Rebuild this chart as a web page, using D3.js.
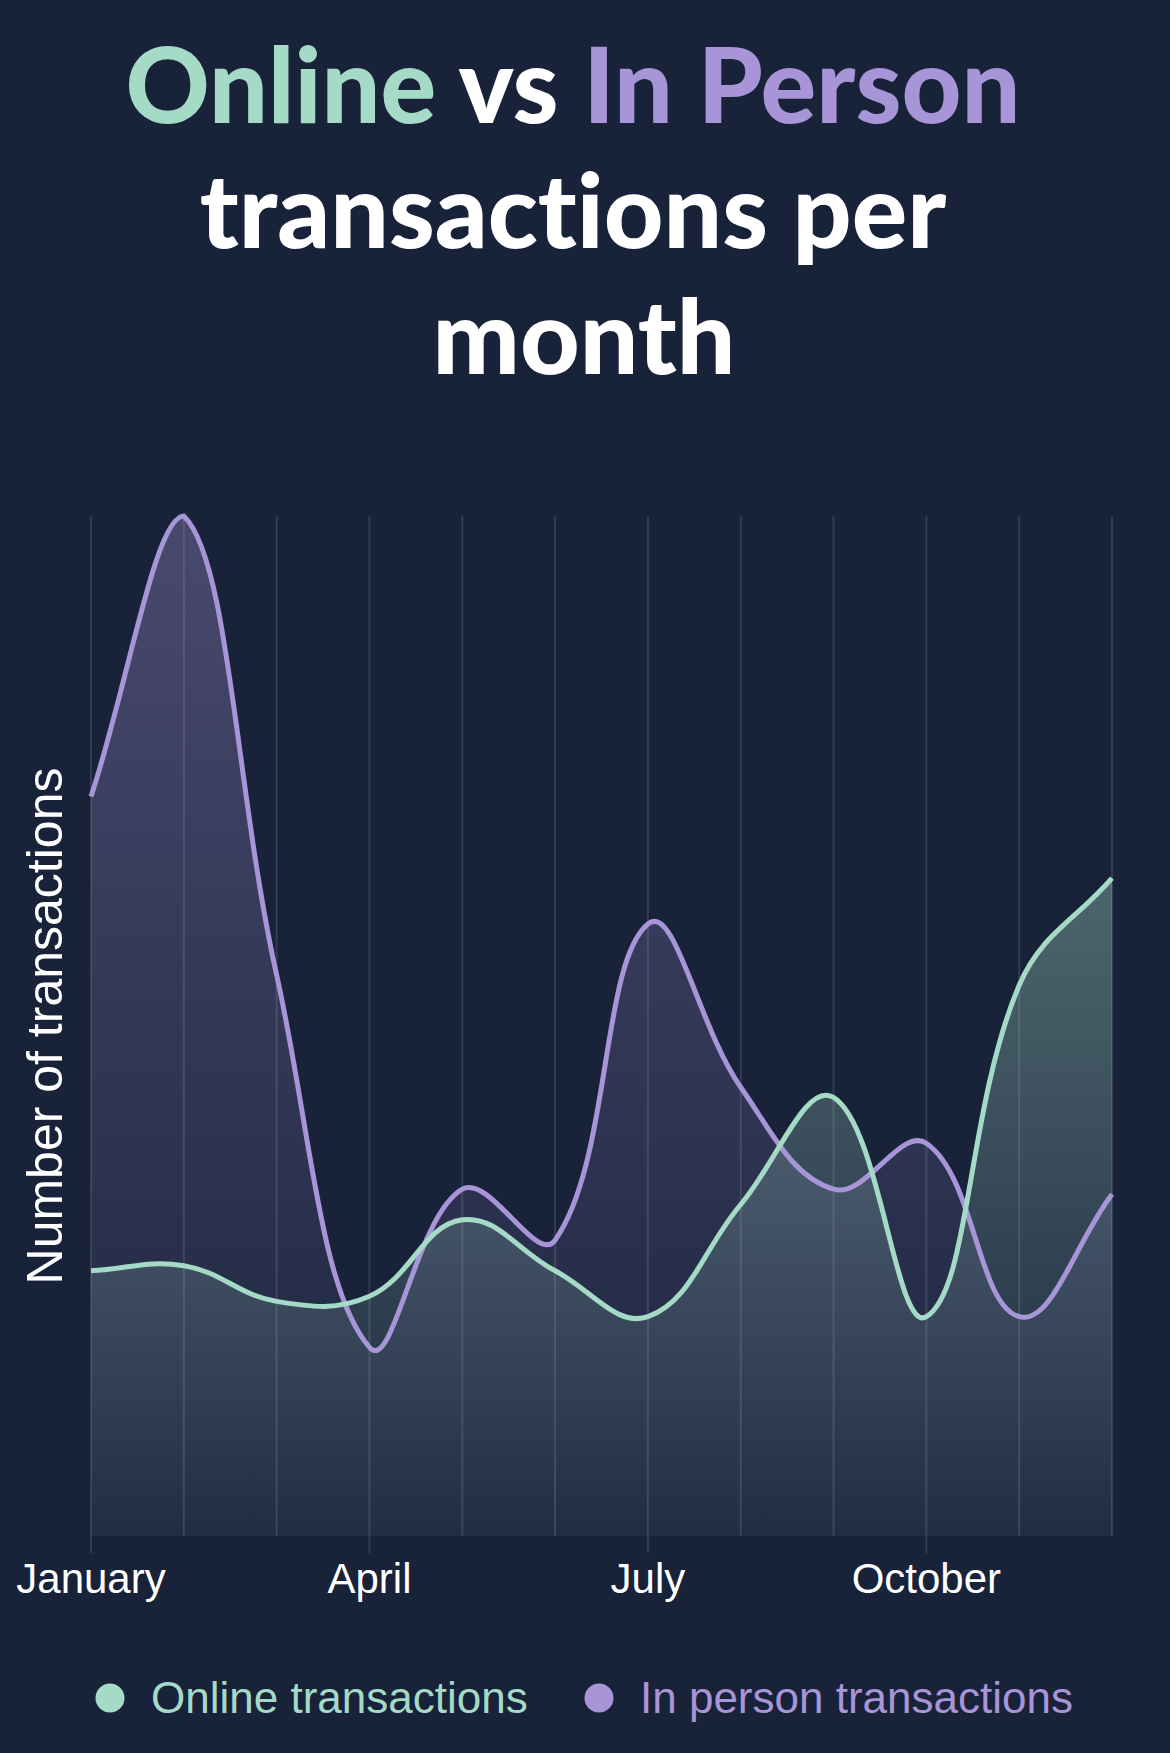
<!DOCTYPE html>
<html>
<head>
<meta charset="utf-8">
<script src="https://cdn.jsdelivr.net/npm/d3@7"></script>
<style>
  html, body { margin: 0; padding: 0; background: #182239; }
  svg { display: block; }
  text { font-variant-ligatures: none; }
</style>
</head>
<body>
<div id="chart"></div>
<script>
var months = ["January", "February", "March", "April", "May", "June",
              "July", "August", "September", "October", "November", "December"];
var tickLabels = ["January", "April", "July", "October"];
var onlineValues = [52, 53, 46, 47, 62, 52, 43, 65, 86, 43, 108, 129];
var inPersonValues = [145, 200, 110, 37, 68, 58, 120, 88, 68, 77, 43, 67];
var seriesNames = ["Online transactions", "In person transactions"];

var W = 1170, H = 1753;
var plotLeft = 91, plotRight = 1112, plotTop = 516, plotBottom = 1536;
var mint = "#a5dac7", lilac = "#a895d7";

var svg = d3.select("#chart").append("svg")
    .attr("width", W)
    .attr("height", H);

svg.append("rect").attr("width", W).attr("height", H).attr("fill", "#182239");

var x = d3.scalePoint()
    .domain(months)
    .range([plotLeft, plotRight]);

var y = d3.scaleLinear()
    .domain([0, 200])
    .range([plotBottom, plotTop]);

// spline like chart.js with tension 0.4, control points kept inside the plot
function SplineCurve(context) { this._context = context; }
SplineCurve.prototype = {
    areaStart: function () { this._line = 0; },
    areaEnd: function () { this._line = NaN; },
    lineStart: function () { this._pts = []; },
    point: function (px, py) { this._pts.push([+px, +py]); },
    lineEnd: function () {
        var p = this._pts, n = p.length, c = this._context, t = 0.4;
        var clampX = function (v) { return Math.max(plotLeft, Math.min(plotRight, v)); };
        var clampY = function (v) { return Math.max(plotTop, Math.min(plotBottom, v)); };
        if (n) {
            if (this._line) c.lineTo(p[0][0], p[0][1]); else c.moveTo(p[0][0], p[0][1]);
            var cps = p.map(function (cur, i) {
                var prev = p[Math.max(i - 1, 0)], next = p[Math.min(i + 1, n - 1)];
                var d01 = Math.hypot(cur[0] - prev[0], cur[1] - prev[1]);
                var d12 = Math.hypot(next[0] - cur[0], next[1] - cur[1]);
                var s01 = d01 / (d01 + d12), s12 = d12 / (d01 + d12);
                if (isNaN(s01)) s01 = 0;
                if (isNaN(s12)) s12 = 0;
                var fa = t * s01, fb = t * s12;
                var dx = next[0] - prev[0], dy = next[1] - prev[1];
                return {
                    a: [clampX(cur[0] - fa * dx), clampY(cur[1] - fa * dy)],
                    b: [clampX(cur[0] + fb * dx), clampY(cur[1] + fb * dy)]
                };
            });
            for (var i = 1; i < n; i++) {
                c.bezierCurveTo(cps[i - 1].b[0], cps[i - 1].b[1], cps[i].a[0], cps[i].a[1], p[i][0], p[i][1]);
            }
        }
        if (this._line || (this._line !== 0 && n === 1)) c.closePath();
        this._line = 1 - this._line;
    }
};
function splineCurve(context) { return new SplineCurve(context); }

// gradients
var defs = svg.append("defs");
function addGradient(id, color, a0, a1) {
    var g = defs.append("linearGradient")
        .attr("id", id)
        .attr("gradientUnits", "userSpaceOnUse")
        .attr("x1", 0).attr("x2", 0)
        .attr("y1", plotTop).attr("y2", plotBottom);
    g.append("stop").attr("offset", 0).attr("stop-color", color).attr("stop-opacity", a0);
    g.append("stop").attr("offset", 1).attr("stop-color", color).attr("stop-opacity", a1);
}
addGradient("gradPerson", lilac, 0.34, 0.03);
addGradient("gradOnline", mint, 0.55, 0.04);

// grid lines
svg.append("g")
    .selectAll("line")
    .data(months)
    .enter()
    .append("line")
    .attr("x1", function (d) { return x(d); })
    .attr("x2", function (d) { return x(d); })
    .attr("y1", plotTop)
    .attr("y2", function (d) { return tickLabels.indexOf(d) >= 0 ? plotBottom + 17 : plotBottom; })
    .attr("stroke", "rgba(255,255,255,0.12)")
    .attr("stroke-width", 2);

var area = function (vals) {
    return d3.area()
        .x(function (d, i) { return x(months[i]); })
        .y0(plotBottom)
        .y1(function (d) { return y(d); })
        .curve(splineCurve)(vals);
};
var line = function (vals) {
    return d3.line()
        .x(function (d, i) { return x(months[i]); })
        .y(function (d) { return y(d); })
        .curve(splineCurve)(vals);
};

// in person drawn first, online on top
svg.append("path").attr("d", area(inPersonValues)).attr("fill", "url(#gradPerson)");
svg.append("path").attr("d", area(onlineValues)).attr("fill", "url(#gradOnline)");
svg.append("path").attr("d", line(inPersonValues))
    .attr("fill", "none").attr("stroke", lilac).attr("stroke-width", 5);
svg.append("path").attr("d", line(onlineValues))
    .attr("fill", "none").attr("stroke", mint).attr("stroke-width", 5);

// x axis labels
var labelFont = "'Liberation Sans', Arial, sans-serif";
svg.append("g")
    .selectAll("text")
    .data(tickLabels)
    .enter()
    .append("text")
    .attr("x", function (d) { return x(d); })
    .attr("y", 1593)
    .attr("text-anchor", "middle")
    .attr("font-family", labelFont)
    .attr("font-size", 42)
    .attr("fill", "#ffffff")
    .text(function (d) { return d; });

// y axis title
svg.append("text")
    .attr("transform", "translate(62," + ((plotTop + plotBottom) / 2) + ") rotate(-90)")
    .attr("text-anchor", "middle")
    .attr("font-family", labelFont)
    .attr("font-size", 50)
    .attr("fill", "#ffffff")
    .text("Number of transactions");

// title
var titleFont = "Lato, 'Open Sans', sans-serif";
var t1 = svg.append("text")
    .attr("x", 573).attr("y", 123)
    .attr("text-anchor", "middle")
    .attr("font-family", titleFont)
    .attr("font-weight", 900)
    .attr("font-size", 104);
t1.append("tspan").attr("fill", mint).text("Online");
t1.append("tspan").attr("fill", "#ffffff").text(" vs ");
t1.append("tspan").attr("fill", lilac).text("In Person");

svg.append("text")
    .attr("x", 573).attr("y", 248)
    .attr("text-anchor", "middle")
    .attr("font-family", titleFont)
    .attr("font-weight", 900)
    .attr("font-size", 103.5)
    .attr("fill", "#ffffff")
    .text("transactions per");

svg.append("text")
    .attr("x", 584).attr("y", 374)
    .attr("text-anchor", "middle")
    .attr("font-family", titleFont)
    .attr("font-weight", 900)
    .attr("font-size", 103.5)
    .attr("fill", "#ffffff")
    .text("month");

// legend
var legendX = [110, 599];
var legendColors = [mint, lilac];
var legend = svg.append("g")
    .selectAll("g")
    .data(seriesNames)
    .enter()
    .append("g");
legend.append("circle")
    .attr("cx", function (d, i) { return legendX[i]; })
    .attr("cy", 1698)
    .attr("r", 14.5)
    .attr("fill", function (d, i) { return legendColors[i]; });
legend.append("text")
    .attr("x", function (d, i) { return legendX[i] + 41; })
    .attr("y", 1713)
    .attr("font-family", labelFont)
    .attr("font-size", 44)
    .attr("fill", function (d, i) { return legendColors[i]; })
    .text(function (d) { return d; });
</script>
</body>
</html>
